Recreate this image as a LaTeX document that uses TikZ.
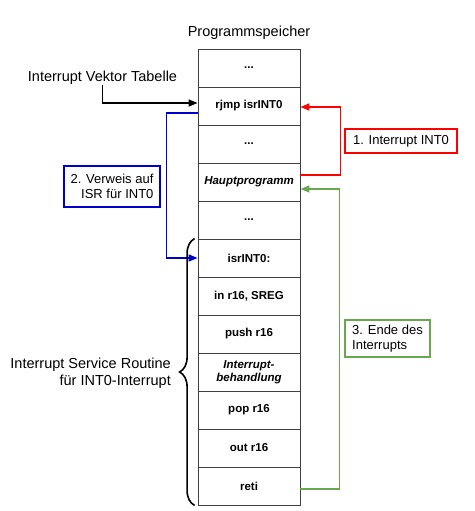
\documentclass[tikz,border=0pt]{standalone}
\usepackage{fontspec}
\setmainfont{Liberation Sans}
\usetikzlibrary{arrows.meta,decorations.pathreplacing}
\definecolor{irqred}{HTML}{FF0000}
\definecolor{irqblue}{HTML}{0000CC}
\definecolor{irqgreen}{HTML}{6AA84F}

\begin{document}
\begin{tikzpicture}[x=1pt, y=-1pt,
  cell/.style={draw=black!75, line width=0.8pt, minimum width=102pt, minimum height=38pt,
    inner sep=0pt, align=center, font=\fontsize{11.5}{13}\selectfont\bfseries},
  lbl/.style={font=\fontsize{14.5}{17.4}\selectfont, inner sep=0pt},
  note/.style={line width=1.2pt, inner sep=0pt, font=\fontsize{13}{15.6}\selectfont},
  tip/.style={-{Triangle[length=9pt,width=7pt]}, line width=1.6pt}]
  \useasboundingbox (0,0) rectangle (474,511);
  % Programmspeicher: 12 Zellen, je 38 hoch, oben bei y=49
  \node[lbl] (title) at (249,33) {Programmspeicher};
  \node[cell] (c1)  at (249,68)  {...};
  \node[cell] (c2)  at (249,106) {rjmp isrINT0};
  \node[cell] (c3)  at (249,144) {...};
  \node[cell] (c4)  at (249,182) {\textit{Hauptprogramm}};
  \node[cell] (c5)  at (249,220) {...};
  \node[cell] (c6)  at (249,258) {isrINT0:};
  \node[cell] (c7)  at (249,296) {in r16, SREG};
  \node[cell] (c8)  at (249,334) {push r16};
  \node[cell] (c9)  at (249,372) {\textit{Interrupt-}\\\textit{behandlung}};
  \node[cell] (c10) at (249,410) {pop r16};
  \node[cell] (c11) at (249,448) {out r16};
  \node[cell] (c12) at (249,486) {reti};
  % Vektortabelle
  \node[lbl] (vtab) at (102.5,78) {Interrupt Vektor Tabelle};
  \draw[tip] (vtab.south) |- ([yshift=3pt]c2.west);
  % 1. Interrupt
  \node[note, draw=irqred, minimum width=112pt, minimum height=24pt] (n1) at (401,141) {1. Interrupt INT0};
  \draw[tip, irqred] ([yshift=7pt]c4.east) -- ++(40,0) |- ([yshift=-1pt]c2.east);
  % 2. Verweis
  \node[note, draw=irqblue, align=right, minimum width=96pt, minimum height=41pt] (n2) at (112,186.5) {2. Verweis auf\\ISR für INT0};
  \draw[tip, irqblue] ([yshift=-7pt]c2.west) -- ++(-31,0) |- (c6.west);
  % 3. Ende
  \node[note, draw=irqgreen, align=left, minimum width=85pt, minimum height=37pt] (n3) at (387.5,338.5) {3. Ende des\\Interrupts};
  \draw[tip, irqgreen, line width=1.3pt] ([yshift=-3pt]c12.east) -- ++(39,0) |- ([yshift=-7pt]c4.east);
  % ISR Klammer
  \draw[decorate, decoration={brace, amplitude=15pt}, line width=1.6pt]
    ([xshift=-3pt]c12.south west) -- ([xshift=-3pt]c6.north west);
  \node[lbl, align=right, anchor=east] (isr) at (171,373) {Interrupt Service Routine\\für INT0-Interrupt};
\end{tikzpicture}
\end{document}
